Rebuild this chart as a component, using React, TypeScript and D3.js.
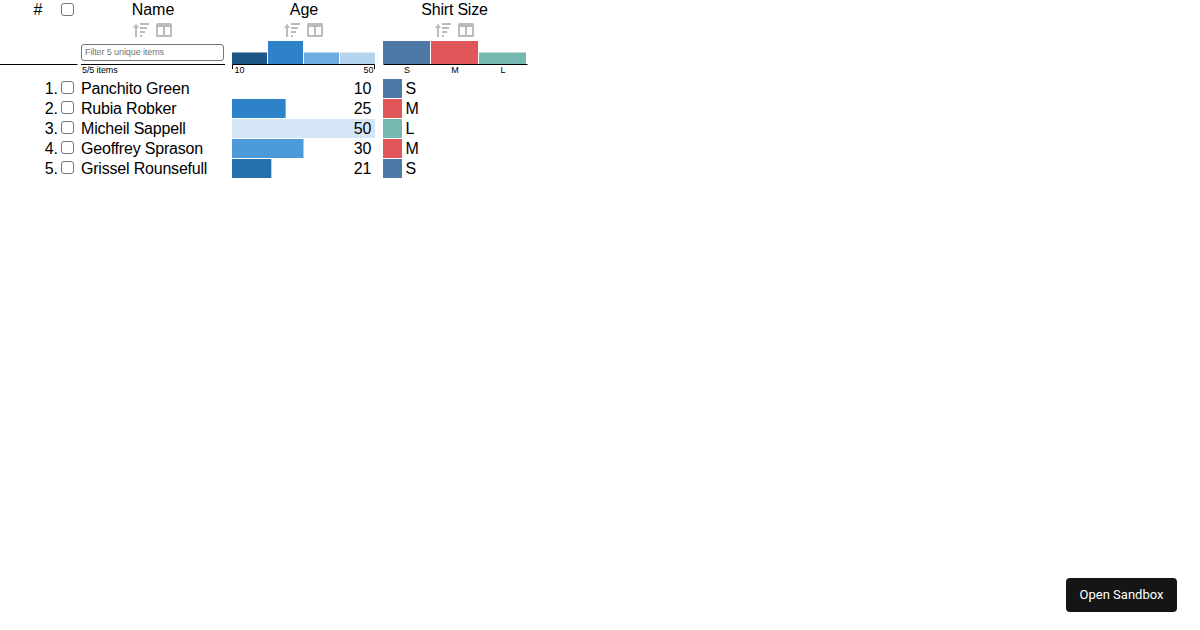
import React, { useEffect, useRef } from 'react';
import * as d3 from 'd3';

const names = ['Panchito Green', 'Rubia Robker', 'Micheil Sappell', 'Geoffrey Sprason', 'Grissel Rounsefull'];
const ages = [10, 25, 50, 30, 21];
const shirts = ['S', 'M', 'L', 'M', 'S'];
const shirtSizes = ['S', 'M', 'L'];
const shirtColors = ['#4e79a7', '#e15759', '#76b7b2'];
const ageColorStops = [15, 21, 25, 30, 35, 45, 50];
const ageColors = ['#1d5585', '#2670ab', '#2d82c9', '#4c9ada', '#6cace0', '#b3d3ee', '#d4e6f5'];
const FONT = '"Liberation Sans", Arial, sans-serif';

const App: React.FC = () => {
  const svgRef = useRef<SVGSVGElement>(null);

  useEffect(() => {
    const svg = d3.select(svgRef.current);
    svg.selectAll('*').remove();
    svg.style('font-family', FONT).style('text-rendering', 'optimizeSpeed');

    const rowY = d3.scaleBand<number>().domain(d3.range(names.length)).range([79, 179]);
    const ageX = d3.scaleLinear().domain([10, 50]).range([232, 375]);
    const binX = ageX.copy().range([232, 376]);
    const axisX = ageX.copy().range([232, 374]);
    const ageColor = d3.scaleLinear<string>().domain(ageColorStops).range(ageColors);
    const shirtX = d3.scaleBand<string>().domain(shirtSizes).range([383, 527]);
    const shirtColor = d3.scaleOrdinal<string, string>().domain(shirtSizes).range(shirtColors);
    const barH = rowY.bandwidth() - 1;

    const checkbox = (x: number, y: number) => {
      svg.append('rect')
        .attr('x', x + 0.5).attr('y', y + 0.5)
        .attr('width', 12).attr('height', 12).attr('rx', 2.5)
        .attr('fill', '#fff').attr('stroke', '#767676');
    };

    // Headers
    const headers: [string, number][] = [['#', 38], ['Name', 153], ['Age', 304], ['Shirt Size', 454.5]];
    headers.forEach(([label, x]) => {
      svg.append('text').attr('x', x).attr('y', 15).attr('text-anchor', 'middle')
        .style('font-size', '16px').style('letter-spacing', label.length > 4 ? '-0.2px' : '0')
        .attr('fill', '#000').text(label);
    });
    checkbox(61, 3);

    // Sort and column icons
    [153, 304, 454.5].forEach(cx => {
      const g = svg.append('g').attr('transform', `translate(${Math.round(cx - 20)},22)`).attr('fill', '#bbb');
      g.append('path').attr('d', 'M3 1.5 L6 6 H4 V15 H2 V6 H0 Z');
      g.append('rect').attr('x', 7).attr('y', 1).attr('width', 9).attr('height', 2);
      g.append('rect').attr('x', 7).attr('y', 5).attr('width', 7).attr('height', 2);
      g.append('rect').attr('x', 7).attr('y', 9).attr('width', 5).attr('height', 2);
      g.append('rect').attr('x', 7).attr('y', 13).attr('width', 2).attr('height', 2);
      g.append('rect').attr('x', 23).attr('y', 1).attr('width', 16).attr('height', 14).attr('rx', 1.5);
      g.append('rect').attr('x', 25).attr('y', 5).attr('width', 5).attr('height', 8).attr('fill', '#fff');
      g.append('rect').attr('x', 32).attr('y', 5).attr('width', 5).attr('height', 8).attr('fill', '#fff');
    });

    // Name filter
    svg.append('rect').attr('x', 81.5).attr('y', 44.5).attr('width', 142).attr('height', 16).attr('rx', 2.5)
      .attr('fill', '#fff').attr('stroke', '#767676');
    svg.append('text').attr('x', 85).attr('y', 55).style('font-size', '9px').style('letter-spacing', '-0.1px')
      .attr('fill', '#757575').text(`Filter ${names.length} unique items`);
    svg.append('text').attr('x', 82).attr('y', 73).style('font-size', '9px').style('letter-spacing', '-0.1px')
      .attr('fill', '#000').text(`${names.length}/${names.length} items`);
    [[0, 77.5], [81, 225]].forEach(([a, b]) => {
      svg.append('line').attr('x1', a).attr('x2', b).attr('y1', 64.5).attr('y2', 64.5).attr('stroke', '#000');
    });

    // Age histogram
    const bins = d3.bin().domain([10, 50]).thresholds([20, 30, 40])(ages);
    const histY = d3.scaleLinear().domain([0, 2]).range([64, 41]);
    svg.append('g').selectAll('rect').data(bins).join('rect')
      .attr('x', d => binX(d.x0!))
      .attr('y', d => histY(d.length))
      .attr('width', d => binX(d.x1!) - binX(d.x0!) - 1)
      .attr('height', d => histY(0) - histY(d.length))
      .attr('fill', d => ageColor((d.x0! + d.x1!) / 2));

    const ageAxis = svg.append('g').attr('transform', 'translate(0,64)')
      .call(d3.axisBottom(axisX).tickValues([10, 50]).tickSize(0).tickSizeOuter(5).tickPadding(3));
    ageAxis.selectAll('text')
      .style('font-family', FONT).style('font-size', '9px')
      .attr('text-anchor', (_, i) => (i === 0 ? 'start' : 'end'))
      .attr('dx', (_, i) => (i === 0 ? 2 : -1));

    // Shirt histogram
    const shirtCounts = d3.rollup(shirts, v => v.length, d => d);
    svg.append('g').selectAll('rect').data(shirtSizes).join('rect')
      .attr('x', d => shirtX(d)!)
      .attr('y', d => histY(shirtCounts.get(d) ?? 0))
      .attr('width', shirtX.bandwidth() - 1)
      .attr('height', d => histY(0) - histY(shirtCounts.get(d) ?? 0))
      .attr('fill', d => shirtColor(d));

    const shirtAxis = svg.append('g').attr('transform', 'translate(0,64)')
      .call(d3.axisBottom(shirtX).tickSize(0).tickPadding(3));
    shirtAxis.selectAll('text').style('font-family', FONT).style('font-size', '9px');

    // Rows
    names.forEach((name, i) => {
      const y = rowY(i)!;
      const base = y + 15;
      const text = (x: number, label: string, anchor = 'start') =>
        svg.append('text').attr('x', x).attr('y', base).attr('text-anchor', anchor)
          .style('font-size', '16px').attr('fill', '#000').text(label);

      text(58, `${i + 1}.`, 'end');
      checkbox(61, y + 2);
      text(81, name).style('letter-spacing', '-0.2px');

      svg.append('rect').attr('x', ageX(10)).attr('y', y)
        .attr('width', ageX(ages[i]) - ageX(10)).attr('height', barH)
        .attr('fill', ageColor(ages[i]));
      text(371.5, String(ages[i]), 'end');

      svg.append('rect').attr('x', 383).attr('y', y).attr('width', 19).attr('height', barH)
        .attr('fill', shirtColor(shirts[i]));
      text(405.5, shirts[i]);
    });

    // Sandbox button
    svg.append('rect').attr('x', 1066).attr('y', 578).attr('width', 111).attr('height', 34).attr('rx', 4)
      .attr('fill', '#151515');
    svg.append('text').attr('x', 1121.5).attr('y', 599).attr('text-anchor', 'middle')
      .style('font-family', 'Roboto, sans-serif').style('font-size', '13px').attr('fill', '#fff')
      .text('Open Sandbox');
  }, []);

  return (
    <svg
      ref={svgRef}
      width={1200}
      height={630}
      style={{ position: 'absolute', left: 0, top: 0, background: '#fff' }}
    />
  );
};

export default App;
